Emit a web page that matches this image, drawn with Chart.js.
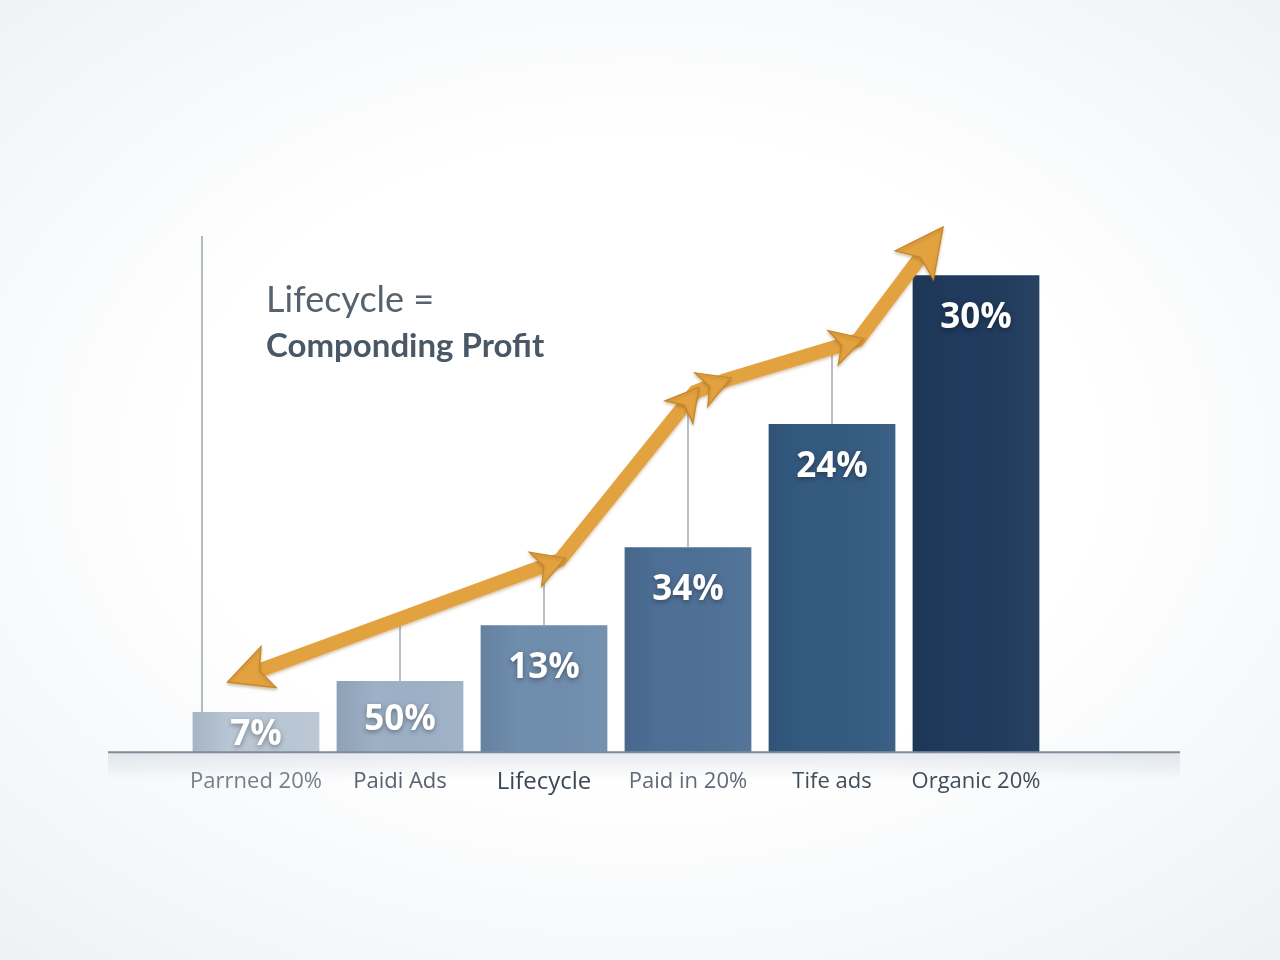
<!DOCTYPE html>
<html>
<head>
<meta charset="utf-8">
<script src="https://cdn.jsdelivr.net/npm/chart.js@4.4.1/dist/chart.umd.min.js"></script>
<style>
  html, body { margin: 0; padding: 0; }
  body {
    width: 1280px; height: 960px; overflow: hidden;
    background: radial-gradient(ellipse 80% 75% at 50% 48%, #ffffff 45%, #eceff3 100%);
  }
  #chart { display: block; }
</style>
</head>
<body>
<canvas id="chart" width="1280" height="960"></canvas>
<script>
const categories = ['Parrned 20%', 'Paidi Ads', 'Lifecycle', 'Paid in 20%', 'Tife ads', 'Organic 20%']
const barValues = [7.8, 13.8, 24.6, 39.7, 63.6, 92.4]
const barLabels = ['7%', '50%', '13%', '34%', '24%', '30%']
const barColors = ['#b9c6d4', '#9db0c5', '#6f8dad', '#4e7096', '#345a80', '#1f3a5c']
const tickColors = ['#737f8b', '#56626f', '#3a4756', '#5f6b78', '#3f4c5a', '#3f4c5a']
const tickSizes = [22, 22, 24, 22, 22, 22]
// arrow path, x in category units (0 = first bar centre), y in the bar scale
const arrowX = [0.01, 2.11, 3.05, 3.26, 4.18, 4.63]
const arrowY = [15.7, 37.2, 69.8, 72.1, 79.8, 96.5]
const titleLines = ['Lifecycle =', 'Componding Profit']

const ARROW = '#e3a240'
const ARROW_EDGE = '#c68729'

function head(ctx, tip, u, L, W, notch) {
    const v = { x: -u.y, y: u.x }
    ctx.beginPath()
    ctx.moveTo(tip.x, tip.y)
    ctx.lineTo(tip.x - u.x * L + v.x * W, tip.y - u.y * L + v.y * W)
    ctx.lineTo(tip.x - u.x * (L - notch), tip.y - u.y * (L - notch))
    ctx.lineTo(tip.x - u.x * L - v.x * W, tip.y - u.y * L - v.y * W)
    ctx.closePath()
    ctx.fillStyle = ARROW
    ctx.fill()
    ctx.lineWidth = 1.2
    ctx.strokeStyle = ARROW_EDGE
    ctx.stroke()
}

function unit(a, b) {
    const dx = b.x - a.x, dy = b.y - a.y
    const l = Math.hypot(dx, dy)
    return { x: dx / l, y: dy / l }
}

const decor = {
    id: 'decor',
    beforeDatasetsDraw(chart) {
        const { ctx, chartArea } = chart
        ctx.save()
        // title
        ctx.fillStyle = '#56636f'
        ctx.font = '400 36px Lato'
        ctx.fillText(titleLines[0], 266, 312)
        ctx.fillStyle = '#4a5866'
        ctx.font = 'bold 33px Lato'
        ctx.fillText(titleLines[1], 266, 357)
        // left rule
        const x0 = chartArea.left + 18
        ctx.strokeStyle = '#9aa5b1'
        ctx.lineWidth = 1.5
        ctx.beginPath()
        ctx.moveTo(x0, chartArea.top)
        ctx.lineTo(x0, chartArea.bottom)
        ctx.stroke()
        // soft floor shadow
        const g = ctx.createLinearGradient(0, chartArea.bottom, 0, chartArea.bottom + 28)
        g.addColorStop(0, 'rgba(120,140,165,0.18)')
        g.addColorStop(1, 'rgba(120,140,165,0)')
        ctx.fillStyle = g
        ctx.fillRect(108, chartArea.bottom, 1072, 28)
        ctx.restore()
    },
    afterDatasetDraw(chart, args) {
        const { ctx, chartArea } = chart
        if (args.index === 0) {
            const bars = chart.getDatasetMeta(0).data
            const pts = chart.getDatasetMeta(1).data
            ctx.save()
            // subtle side shading on bars
            bars.forEach(b => {
                const l = b.x - b.width / 2
                const g = ctx.createLinearGradient(l, 0, l + b.width, 0)
                g.addColorStop(0, 'rgba(10,25,45,0.10)')
                g.addColorStop(0.3, 'rgba(10,25,45,0)')
                g.addColorStop(1, 'rgba(255,255,255,0.04)')
                ctx.fillStyle = g
                ctx.fillRect(l, b.y, b.width, b.base - b.y)
            })
            // baseline
            ctx.strokeStyle = '#7f8b99'
            ctx.lineWidth = 2
            ctx.beginPath()
            ctx.moveTo(108, chartArea.bottom)
            ctx.lineTo(1180, chartArea.bottom)
            ctx.stroke()
            // connectors from bar tops up to the arrow
            ctx.strokeStyle = '#8893a0'
            ctx.lineWidth = 1.2
            bars.forEach(b => {
                for (let i = 0; i < pts.length - 1; i++) {
                    const a = pts[i], c = pts[i + 1]
                    if (b.x >= a.x && b.x <= c.x) {
                        const t = (b.x - a.x) / (c.x - a.x)
                        const y = a.y + t * (c.y - a.y)
                        if (y < b.y) {
                            ctx.beginPath()
                            ctx.moveTo(b.x, b.y)
                            ctx.lineTo(b.x, y)
                            ctx.stroke()
                        }
                        break
                    }
                }
            })
            ctx.restore()
        }
        if (args.index === 1) ctx.restore()
    },
    beforeDatasetDraw(chart, args) {
        if (args.index === 1) {
            const ctx = chart.ctx
            ctx.save()
            ctx.shadowColor = 'rgba(150,95,25,0.35)'
            ctx.shadowBlur = 3
            ctx.shadowOffsetY = 2
        }
    },
    afterDatasetsDraw(chart) {
        const { ctx } = chart
        const pts = chart.getDatasetMeta(1).data
        const bars = chart.getDatasetMeta(0).data
        ctx.save()
        ctx.shadowColor = 'rgba(120,80,20,0.3)'
        ctx.shadowBlur = 3
        ctx.shadowOffsetY = 2
        // end heads
        const n = pts.length
        const uEnd = unit(pts[n - 2], pts[n - 1])
        head(ctx, { x: pts[n - 1].x + uEnd.x * 34, y: pts[n - 1].y + uEnd.y * 34 }, uEnd, 48, 24, 10)
        const uStart = unit(pts[1], pts[0])
        head(ctx, { x: pts[0].x + uStart.x * 32, y: pts[0].y + uStart.y * 32 }, uStart, 44, 22, 10)
        // chevrons at the bends
        for (let i = 1; i < n - 1; i++) {
            const u = unit(pts[i - 1], pts[i])
            head(ctx, { x: pts[i].x + u.x * 6, y: pts[i].y + u.y * 6 }, u, 32, 18, 9)
        }
        ctx.restore()
        // value labels inside bars
        ctx.save()
        ctx.font = 'bold 35px "Open Sans"'
        ctx.fillStyle = '#ffffff'
        ctx.textAlign = 'center'
        ctx.textBaseline = 'alphabetic'
        ctx.shadowColor = 'rgba(0,0,0,0.35)'
        ctx.shadowBlur = 5
        ctx.shadowOffsetY = 2
        bars.forEach((b, i) => {
            const h = b.base - b.y
            const cy = b.y + Math.min(40, h / 2)
            ctx.fillText(barLabels[i], b.x, cy + 13)
        })
        ctx.restore()
    }
}

new Chart(document.getElementById('chart'), {
    data: {
        labels: categories,
        datasets: [
            {
                type: 'bar',
                data: barValues,
                backgroundColor: barColors,
                borderWidth: 0,
                grouped: false,
                barPercentage: 0.88,
                categoryPercentage: 1,
                order: 2,
            },
            {
                type: 'line',
                xAxisID: 'xa',
                data: arrowX.map((x, i) => ({ x: x, y: arrowY[i] })),
                borderColor: ARROW,
                borderWidth: 14,
                borderJoinStyle: 'miter',
                pointRadius: 0,
                tension: 0,
                clip: false,
                order: 1,
            },
        ],
    },
    options: {
        responsive: false,
        animation: false,
        devicePixelRatio: 1,
        layout: { padding: { left: 184, right: 232, top: 236, bottom: 147 } },
        plugins: { legend: { display: false }, tooltip: { enabled: false } },
        scales: {
            x: {
                type: 'category',
                grid: { display: false, drawTicks: false },
                border: { display: false },
                ticks: {
                    padding: 16,
                    maxRotation: 0,
                    autoSkip: false,
                    color: c => tickColors[c.index],
                    font: c => ({ family: '"Open Sans"', size: tickSizes[c.index] }),
                },
            },
            xa: { type: 'linear', display: false, min: -0.5, max: 5.5 },
            y: { display: false, min: 0, max: 100 },
        },
    },
    plugins: [decor],
})
</script>
</body>
</html>
